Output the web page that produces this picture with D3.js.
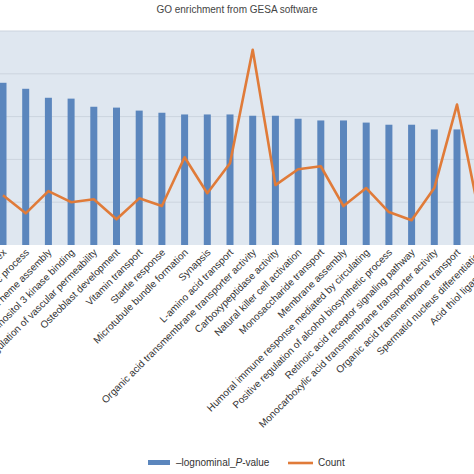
<!DOCTYPE html>
<html><head><meta charset="utf-8">
<script src="https://cdn.jsdelivr.net/npm/d3@7"></script>
<style>body{margin:0;background:#fff}svg{display:block}</style></head>
<body><svg id="c" width="474" height="474"></svg>
<script>
const categories = ["Respiratory chain complex","Heme metabolic process","Cytochrome complex heme assembly","Phosphatidylinositol 3 kinase binding","Regulation of vascular permeability","Osteoblast development","Vitamin transport","Startle response","Microtubule bundle formation","Synapsis","L-amino acid transport","Organic acid transmembrane transporter activity","Carboxypeptidase activity","Natural killer cell activation","Monosaccharide transport","Membrane assembly","Humoral immune response mediated by circulating","Positive regulation of alcohol biosynthetic process","Retinoic acid receptor signaling pathway","Monocarboxylic acid transmembrane transporter activity","Organic acid transmembrane transport","Spermatid nucleus differentiation","Acid thiol ligase activity"];
const pvalues = [3.79,3.65,3.44,3.42,3.23,3.21,3.14,3.09,3.05,3.05,3.05,3.02,3.02,2.95,2.91,2.91,2.86,2.81,2.81,2.70,2.70,2.65,2.60];
const counts = [1.16,0.74,1.26,1.0,1.07,0.60,1.09,0.91,2.05,1.21,1.91,4.56,1.40,1.77,1.84,0.91,1.33,0.77,0.58,1.33,3.28,0.67,1.0];
const yTicks = [0,1,2,3,4,5];

const svg = d3.select("#c");
const plotTop=31, plotBottom=245;
const x = d3.scalePoint().domain(categories).range([3, 3+22.7*(categories.length-1)]);
const y = d3.scaleLinear().domain([0,5]).range([plotBottom, plotTop]);
const y2 = d3.scaleLinear().domain([0,5]).range([plotBottom, plotTop]);

svg.append("text").attr("x",237).attr("y",13).attr("text-anchor","middle")
  .attr("font-family","Liberation Sans, Arial").attr("font-size",10).attr("fill","#444")
  .text("GO enrichment from GESA software");
svg.append("rect").attr("x",0).attr("y",plotTop).attr("width",474).attr("height",plotBottom-plotTop).attr("fill","#dfe7f0");
svg.append("g").selectAll("line").data(yTicks.slice(1)).join("line")
  .attr("x1",0).attr("x2",474).attr("y1",d=>y(d)).attr("y2",d=>y(d))
  .attr("stroke","#ccd4de").attr("stroke-width",1);

svg.append("g").selectAll("rect").data(pvalues).join("rect")
  .attr("x",(d,i)=>x(categories[i])-3.5).attr("width",7)
  .attr("y",d=>y(d)).attr("height",d=>plotBottom-y(d)).attr("fill","#5b86bd");

svg.append("path").datum(counts)
  .attr("d",d3.line().x((d,i)=>x(categories[i])).y(d=>y2(d)))
  .attr("fill","none").attr("stroke","#e07b39").attr("stroke-width",2.6).attr("stroke-linejoin","round");

svg.append("g").selectAll("text").data(categories).join("text")
  .attr("transform",d=>`translate(${x(d)+4},${plotBottom+8}) rotate(-45)`)
  .attr("text-anchor","end").attr("font-family","Liberation Sans, Arial").attr("font-size",10).attr("fill","#333")
  .text(d=>d);

const lg = svg.append("g").attr("font-family","Liberation Sans, Arial").attr("font-size",10).attr("fill","#333");
lg.append("rect").attr("x",148).attr("y",460).attr("width",22).attr("height",5).attr("fill","#5b86bd");
const t = lg.append("text").attr("x",176).attr("y",466);
t.append("tspan").text("\u2013lognominal_");
t.append("tspan").attr("font-style","italic").text("P");
t.append("tspan").text("-value");
lg.append("line").attr("x1",288).attr("x2",313).attr("y1",463).attr("y2",463).attr("stroke","#e07b39").attr("stroke-width",2.6);
lg.append("text").attr("x",318).attr("y",466).text("Count");
</script></body></html>
